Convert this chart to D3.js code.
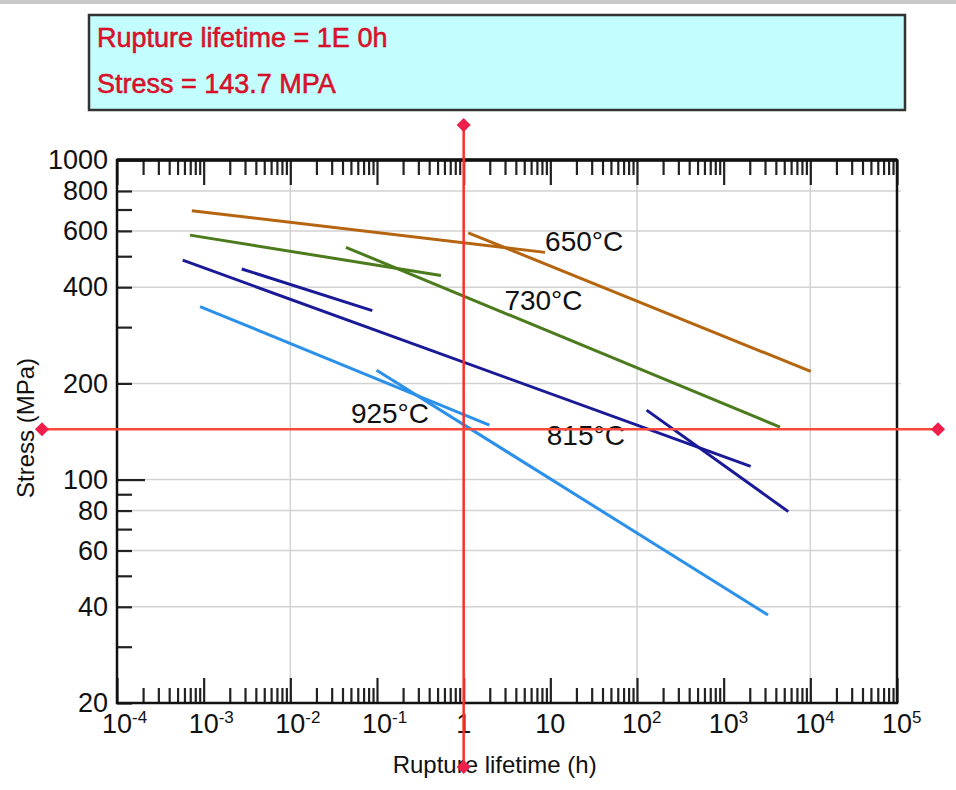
<!DOCTYPE html>
<html>
<head>
<meta charset="utf-8">
<script src="https://cdn.jsdelivr.net/npm/d3@7/dist/d3.min.js"></script>
<style>
  body { margin: 0; background: #fff; font-family: "Liberation Sans", Arial, Helvetica, sans-serif; }
  .grid line { stroke: #d2d2d2; stroke-width: 1.5; }
  .axis line { stroke: #222; stroke-width: 2.2; }
  .axis text { font-size: 27px; fill: #111; font-family: "Liberation Sans", Arial, sans-serif; }
  .axis-title { font-size: 24px; fill: #111; }
  .temp-label { font-size: 28px; fill: #111; }
  .readout text { font-size: 27px; fill: #e3122b; stroke: #c4001c; stroke-width: 0.5; }
</style>
</head>
<body>
<div id="chart"></div>
<script>
// ---- data ----
const temperatures = ["650°C", "730°C", "815°C", "925°C"];

// each temperature is drawn as a couple of straight fit segments: [lifetime h, stress MPa]
const rupture650 = [[[7.3e-4, 694], [8.7, 514]], [[1.13, 592], [1.01e4, 218]]];
const rupture730 = [[[6.95e-4, 582], [0.547, 435]], [[0.0438, 533], [4470, 146]]];
const rupture815 = [[[5.73e-4, 486], [2050, 110]], [[2.75e-3, 456], [0.0883, 338]], [[129, 165], [5570, 79.4]]];
const rupture925 = [[[9.08e-4, 348], [1.98, 148]], [[0.099, 220], [3245, 37.7]]];
const ruptureSeries = [rupture650, rupture730, rupture815, rupture925];

// where each temperature label sits, in data units (left end / baseline)
const labelAnchors = [[8.7, 521], [2.95, 340], [9.1, 128], [0.05, 150]];

// readout of the crosshair
const readoutLifetime = 1;
const readoutStress = 143.7;

// tick values
const lifetimeDecades = [-4, -3, -2, -1, 0, 1, 2, 3, 4, 5];
const stressTicks = [20, 30, 40, 50, 60, 70, 80, 90, 100, 200, 300, 400, 500, 600, 700, 800, 1000];
const stressLabels = [20, 40, 60, 80, 100, 200, 400, 600, 800, 1000];
const stressGrid = [40, 60, 80, 100, 200, 400, 600, 800];
const lifetimeGrid = [1e-2, 1, 1e2, 1e4];

const colourScheme = ["#b5650f", "#4b7b1c", "#1a1a98", "#2a90ea"];

class RuptureChart {
  constructor(_config) {
    this.config = {
      parentElement: _config.parentElement,
      containerWidth: _config.containerWidth || 956,
      containerHeight: _config.containerHeight || 790,
      margin: _config.margin || { top: 160, right: 59, bottom: 87, left: 117 },
    };
    this.initVis();
  }

  initVis() {
    let vis = this;

    vis.width = vis.config.containerWidth - vis.config.margin.left - vis.config.margin.right;
    vis.height = vis.config.containerHeight - vis.config.margin.top - vis.config.margin.bottom;

    vis.svg = d3.select(vis.config.parentElement)
      .append("svg")
      .attr("width", vis.config.containerWidth)
      .attr("height", vis.config.containerHeight);

    // thin grey strip along the very top of the window
    vis.svg.append("rect")
      .attr("width", vis.config.containerWidth)
      .attr("height", 4)
      .attr("fill", "#c9c9c9");

    vis.chart = vis.svg.append("g")
      .attr("transform", `translate(${vis.config.margin.left},${vis.config.margin.top})`);

    vis.xScale = d3.scaleLog().domain([1e-4, 1e5]).range([0, vis.width]);
    vis.yScale = d3.scaleLog().domain([20, 1000]).range([vis.height, 0]);
    vis.colourScale = d3.scaleOrdinal().domain(temperatures).range(colourScheme);

    vis.renderVis();
  }

  renderVis() {
    let vis = this;
    const x = vis.xScale, y = vis.yScale;

    // gridlines
    vis.chart.append("g").attr("class", "grid")
      .selectAll("line").data(stressGrid).join("line")
      .attr("x1", 0).attr("x2", vis.width + 4)
      .attr("y1", d => y(d)).attr("y2", d => y(d));
    vis.chart.append("g").attr("class", "grid")
      .selectAll("line").data(lifetimeGrid).join("line")
      .attr("x1", d => x(d)).attr("x2", d => x(d))
      .attr("y1", 0).attr("y2", vis.height);

    // minor / major tick values for the log x axis
    const decades = lifetimeDecades.map(p => Math.pow(10, p));
    const minorX = [];
    lifetimeDecades.slice(0, -1).forEach(p => {
      for (let k = 2; k <= 9; k++) minorX.push(k * Math.pow(10, p));
    });

    // bottom axis: ticks point up into the plot
    vis.chart.append("g").attr("class", "axis")
      .attr("transform", `translate(0,${vis.height})`)
      .call(d3.axisBottom(x).tickValues(minorX).tickSizeInner(-15).tickSizeOuter(0).tickFormat(""))
      .call(g => g.select(".domain").remove());
    vis.chart.append("g").attr("class", "axis")
      .attr("transform", `translate(0,${vis.height})`)
      .call(d3.axisBottom(x).tickValues(decades).tickSizeInner(-25).tickSizeOuter(0).tickFormat(""))
      .call(g => g.select(".domain").remove());

    // top axis mirrors it, pointing down
    vis.chart.append("g").attr("class", "axis")
      .call(d3.axisTop(x).tickValues(minorX).tickSizeInner(-15).tickSizeOuter(0).tickFormat(""))
      .call(g => g.select(".domain").remove());
    vis.chart.append("g").attr("class", "axis")
      .call(d3.axisTop(x).tickValues(decades).tickSizeInner(-25).tickSizeOuter(0).tickFormat(""))
      .call(g => g.select(".domain").remove());

    // x tick labels: "10" centred on the tick with a superscript exponent
    const xLabels = vis.chart.append("g").attr("class", "axis")
      .attr("transform", `translate(0,${vis.height + 30})`);
    lifetimeDecades.forEach(p => {
      const cx = x(Math.pow(10, p));
      const base = p === 0 ? "1" : "10";
      xLabels.append("text").attr("x", cx).attr("text-anchor", "middle").text(base);
      if (p !== 0 && p !== 1) {
        xLabels.append("text")
          .attr("x", cx + 15)
          .attr("y", -10)
          .style("font-size", "17px")
          .text(p);
      }
    });

    // left axis: ticks point right, labels outside
    const labelSet = new Set(stressLabels);
    vis.chart.append("g").attr("class", "axis")
      .call(d3.axisLeft(y).tickValues(stressTicks).tickSizeInner(-15).tickSizeOuter(0).tickPadding(9)
        .tickFormat(d => labelSet.has(d) ? d : ""))
      .call(g => g.select(".domain").remove())
      .call(g => g.selectAll(".tick line").filter(d => d === 100 || d === 1000).attr("x2", 28));

    // frame
    vis.chart.append("rect")
      .attr("width", vis.width).attr("height", vis.height)
      .attr("fill", "none").attr("stroke", "#111").attr("stroke-width", 2.5);
    vis.chart.append("line")
      .attr("x1", 0).attr("x2", vis.width).attr("y1", 0).attr("y2", 0)
      .attr("stroke", "#111").attr("stroke-width", 3.5);

    // rupture curves
    const line = d3.line().x(d => x(d[0])).y(d => y(d[1]));
    temperatures.forEach((t, i) => {
      vis.chart.append("g")
        .selectAll("path").data(ruptureSeries[i]).join("path")
        .attr("d", line)
        .attr("fill", "none")
        .attr("stroke", vis.colourScale(t))
        .attr("stroke-width", 3);
    });

    // temperature labels
    vis.chart.selectAll(".temp-label").data(temperatures).join("text")
      .attr("class", "temp-label")
      .attr("x", (d, i) => x(labelAnchors[i][0]))
      .attr("y", (d, i) => y(labelAnchors[i][1]))
      .text(d => d);

    // axis titles
    vis.chart.append("text").attr("class", "axis-title")
      .attr("x", x(readoutLifetime) + 31).attr("y", vis.height + 70)
      .attr("text-anchor", "middle")
      .text("Rupture lifetime (h)");
    vis.chart.append("text").attr("class", "axis-title")
      .attr("transform", `translate(${-83},${y(145)}) rotate(-90)`)
      .attr("text-anchor", "middle")
      .text("Stress (MPa)");

    // crosshair at the readout point
    const cx = x(readoutLifetime), cy = y(readoutStress);
    const cross = vis.chart.append("g");
    cross.append("line")
      .attr("x1", cx).attr("x2", cx).attr("y1", -35).attr("y2", vis.height + 64)
      .attr("stroke", "#f8302a").attr("stroke-width", 2.5);
    cross.append("line")
      .attr("x1", -75).attr("x2", vis.width + 41).attr("y1", cy).attr("y2", cy)
      .attr("stroke", "#fb4a3c").attr("stroke-width", 2.5);
    const diamond = d3.symbol(d3.symbolSquare, 100);
    [[cx, -35], [cx, vis.height + 64], [-75, cy], [vis.width + 41, cy]].forEach(p => {
      cross.append("path")
        .attr("d", diamond())
        .attr("transform", `translate(${p[0]},${p[1]}) rotate(45)`)
        .attr("fill", "#ee1f4b");
    });

    // readout box
    const box = vis.svg.append("g").attr("class", "readout");
    box.append("rect")
      .attr("x", 89).attr("y", 15).attr("width", 816).attr("height", 95)
      .attr("fill", "#c3fdfd").attr("stroke", "#333").attr("stroke-width", 2.5);
    box.append("text").attr("x", 97).attr("y", 47)
      .text(`Rupture lifetime = 1E ${Math.log10(readoutLifetime)}h`);
    box.append("text").attr("x", 97).attr("y", 93)
      .text(`Stress = ${readoutStress} MPA`);
  }
}

new RuptureChart({ parentElement: "#chart" });
</script>
</body>
</html>
